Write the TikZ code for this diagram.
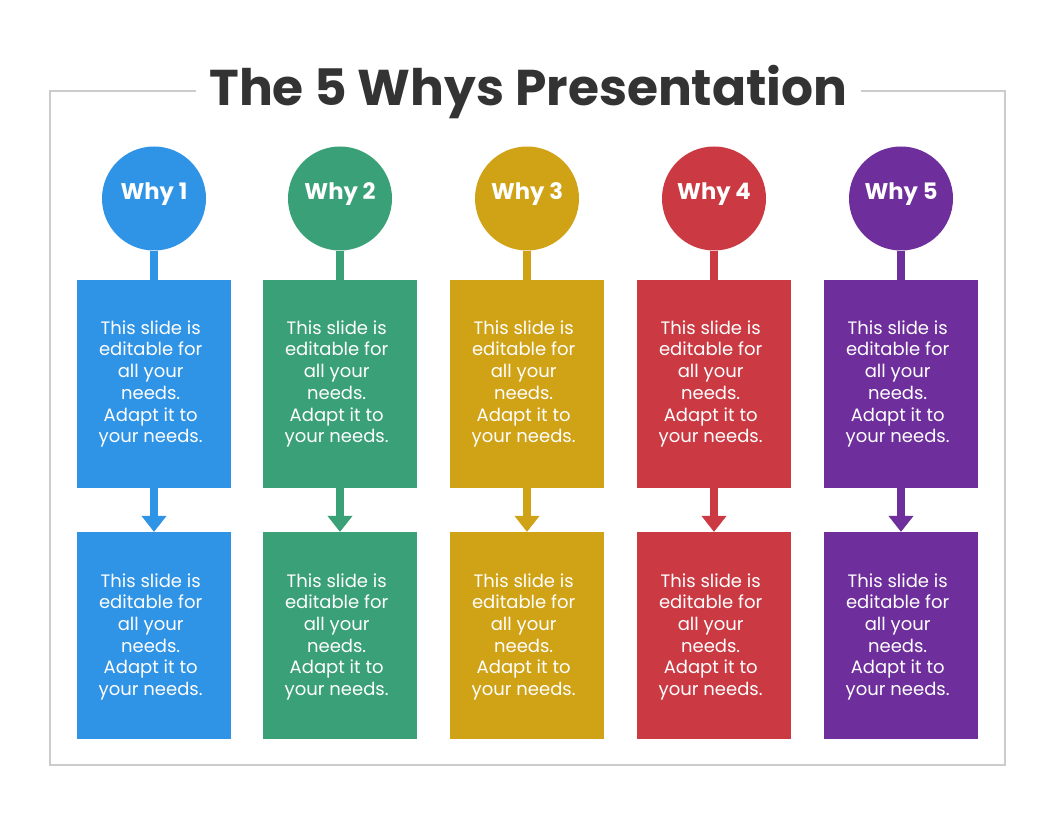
\documentclass[tikz,border=0pt]{standalone}
\usepackage{fontspec}
\setmainfont{Poppins}
\usetikzlibrary{arrows.meta}
\definecolor{c1}{HTML}{2F93E6}
\definecolor{c2}{HTML}{3AA077}
\definecolor{c3}{HTML}{D0A216}
\definecolor{c4}{HTML}{CB3A43}
\definecolor{c5}{HTML}{6E2E9C}
\definecolor{titlec}{HTML}{333333}
\definecolor{framec}{HTML}{CCCCCC}
\tikzset{
  whycirc/.style={circle, fill=#1, minimum size=78pt, inner sep=0pt},
  whytext/.style={text=white, yshift=3.5pt, font=\fontsize{17}{20}\selectfont\bfseries},
  textbox/.style={rectangle, fill=#1, minimum width=115.5pt, inner sep=0pt},
  bodytext/.style={text=white, align=center, xshift=-2.5pt, font=\fontsize{13.5}{16.3}\selectfont},
  stem/.style={draw=#1, line width=6pt},
  flow/.style={draw=#1, line width=6pt, -{Triangle[width=18pt,length=12pt]}},
}
\newcommand{\bodytxt}{This slide is\\editable for\\all your\\needs.\\Adapt it to\\your needs.}
\begin{document}
\begin{tikzpicture}[x=0.75pt,y=-0.75pt]
\useasboundingbox (0,0) rectangle (1056,816);
\fill[white] (0,0) rectangle (1056,816);
\draw[framec, line width=1.5pt] (50,91) rectangle (1005,765);
\node[fill=white, inner xsep=10pt, inner ysep=2pt, text=titlec, font=\fontsize{37.7}{44}\selectfont\bfseries] (title) at (528.5,92.5) {The 5 Whys Presentation};
\foreach \i/\cx/\col in {1/154/c1, 2/340/c2, 3/527/c3, 4/714/c4, 5/901/c5}{
  \node[whycirc=\col, label={[whytext]center:Why \i}] (w\i) at (\cx,198.5) {};
  \node[textbox=\col, minimum height=156pt, label={[bodytext]center:\bodytxt}] (t\i) at (\cx,384) {};
  \node[textbox=\col, minimum height=155pt, label={[bodytext, yshift=-1pt]center:\bodytxt}] (b\i) at (\cx,635.5) {};
  \draw[stem=\col] (w\i.south) -- (t\i.north);
  \draw[flow=\col] (t\i.south) -- (b\i.north);
}
\end{tikzpicture}
\end{document}
